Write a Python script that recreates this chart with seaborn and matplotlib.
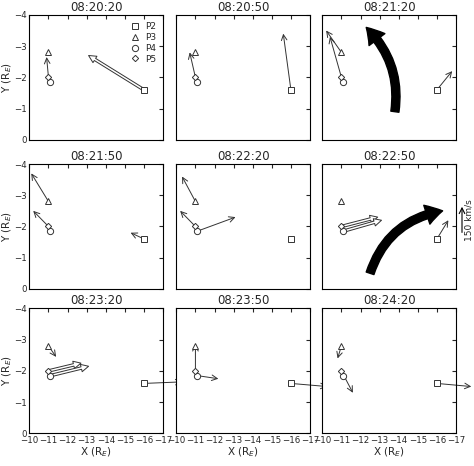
import matplotlib
matplotlib.use("Agg")
import matplotlib.pyplot as plt
import seaborn as sns
from matplotlib.patches import FancyArrowPatch

sns.set_style("white")
plt.rcParams['font.family'] = ['DejaVu Sans']

titles = ["08:20:20", "08:20:50", "08:21:20", "08:21:50", "08:22:20", "08:22:50",
          "08:23:20", "08:23:50", "08:24:20"]
probes = ["P2", "P3", "P4", "P5"]
probe_x = [-16.0, -11.0, -11.1, -11.0]
probe_y = [-1.6, -2.8, -1.85, -2.0]
markers = ["s", "^", "o", "D"]
msizes = [4.5, 4.5, 4.5, 3.2]
# velocity arrow tips per panel: (probe index, tip x, tip y, double)
arrows = [
    [(0, -13.1, -2.7, True), (3, -10.9, -2.65, False)],
    [(0, -15.6, -3.4, False), (3, -10.7, -2.8, False)],
    [(0, -16.8, -2.2, False), (1, -10.2, -3.5, False), (3, -10.4, -3.3, False)],
    [(0, -15.3, -1.8, False), (1, -10.1, -3.7, False), (3, -10.2, -2.5, False)],
    [(1, -10.3, -3.6, False), (3, -10.2, -2.5, False), (2, -13.1, -2.3, False)],
    [(0, -16.6, -2.2, False), (3, -12.9, -2.3, True), (2, -13.1, -2.2, True)],
    [(0, -18.0, -1.65, False), (1, -11.4, -2.45, False), (3, -12.7, -2.25, True), (2, -13.1, -2.15, True)],
    [(0, -17.9, -1.5, False), (3, -11.0, -2.85, False), (2, -12.2, -1.75, False)],
    [(0, -17.8, -1.5, False), (3, -11.6, -1.3, False), (1, -10.8, -2.4, False)],
]
big_arrows = {2: ((-13.8, -0.9), (-12.3, -3.6), 0.25), 5: ((-12.5, -0.5), (-16.3, -2.5), -0.3)}

fig = plt.figure(figsize=(4.74, 4.66), dpi=100)
lefts = [0.062, 0.372, 0.68]
bottoms = [0.70, 0.38, 0.07]
w, h = 0.282, 0.268
for i in range(9):
    r, c = divmod(i, 3)
    ax = fig.add_axes([lefts[c], bottoms[r], w, h])
    ax.set_xlim(-10, -17)
    ax.set_ylim(0, -4)
    ax.set_xticks(range(-10, -18, -1))
    ax.set_yticks(range(0, -5, -1))
    ax.tick_params(direction="in", top=True, right=True, length=3, labelsize=6.2, pad=2)
    for s in ax.spines.values():
        s.set_color("black"); s.set_linewidth(0.8)
    if r < 2:
        ax.set_xticklabels([])
    else:
        ax.set_xlabel("X (R$_E$)", fontsize=7.5, labelpad=0)
    if c > 0:
        ax.set_yticklabels([])
    else:
        ax.set_ylabel("Y (R$_E$)", fontsize=7.5, labelpad=0)
    ax.set_title(titles[i], fontsize=8.5, pad=3)
    for k in range(4):
        ax.plot(probe_x[k], probe_y[k], marker=markers[k], ms=msizes[k], mfc="white",
                mec="#333", mew=0.7, ls="none", label=probes[k], zorder=3)
    for (k, tx, ty, dbl) in arrows[i]:
        if dbl:
            style = "simple,head_length=0.6,head_width=0.6,tail_width=0.2"
            ms = 9
        else:
            style = "->,head_length=0.5,head_width=0.25"
            ms = 8
        ap = FancyArrowPatch((probe_x[k], probe_y[k]), (tx, ty), arrowstyle=style,
                             ec="#333", lw=0.7, clip_on=False, shrinkA=0, shrinkB=0,
                             mutation_scale=ms, fc="white", zorder=2)
        ax.add_patch(ap)
    if i in big_arrows:
        a, b, rad = big_arrows[i]
        ax.add_patch(FancyArrowPatch(a, b, connectionstyle=f"arc3,rad={rad}",
                                     arrowstyle="simple,head_length=0.9,head_width=1.1,tail_width=0.45",
                                     mutation_scale=13, color="black", shrinkA=0, shrinkB=0))
    if i == 0:
        ax.legend(loc="upper right", fontsize=6.5, frameon=False, handletextpad=0.6,
                  labelspacing=0.2, borderpad=0.3, handlelength=1)
    if i == 5:
        ax.annotate("", xy=(1.045, 0.68), xytext=(1.045, 0.43), xycoords="axes fraction",
                    arrowprops=dict(arrowstyle="->", lw=0.8, color="black"))
        ax.text(1.095, 0.55, "150 km/s", rotation=90, transform=ax.transAxes,
                fontsize=6.5, va="center", ha="center")
fig.savefig("out.png", dpi=100)
